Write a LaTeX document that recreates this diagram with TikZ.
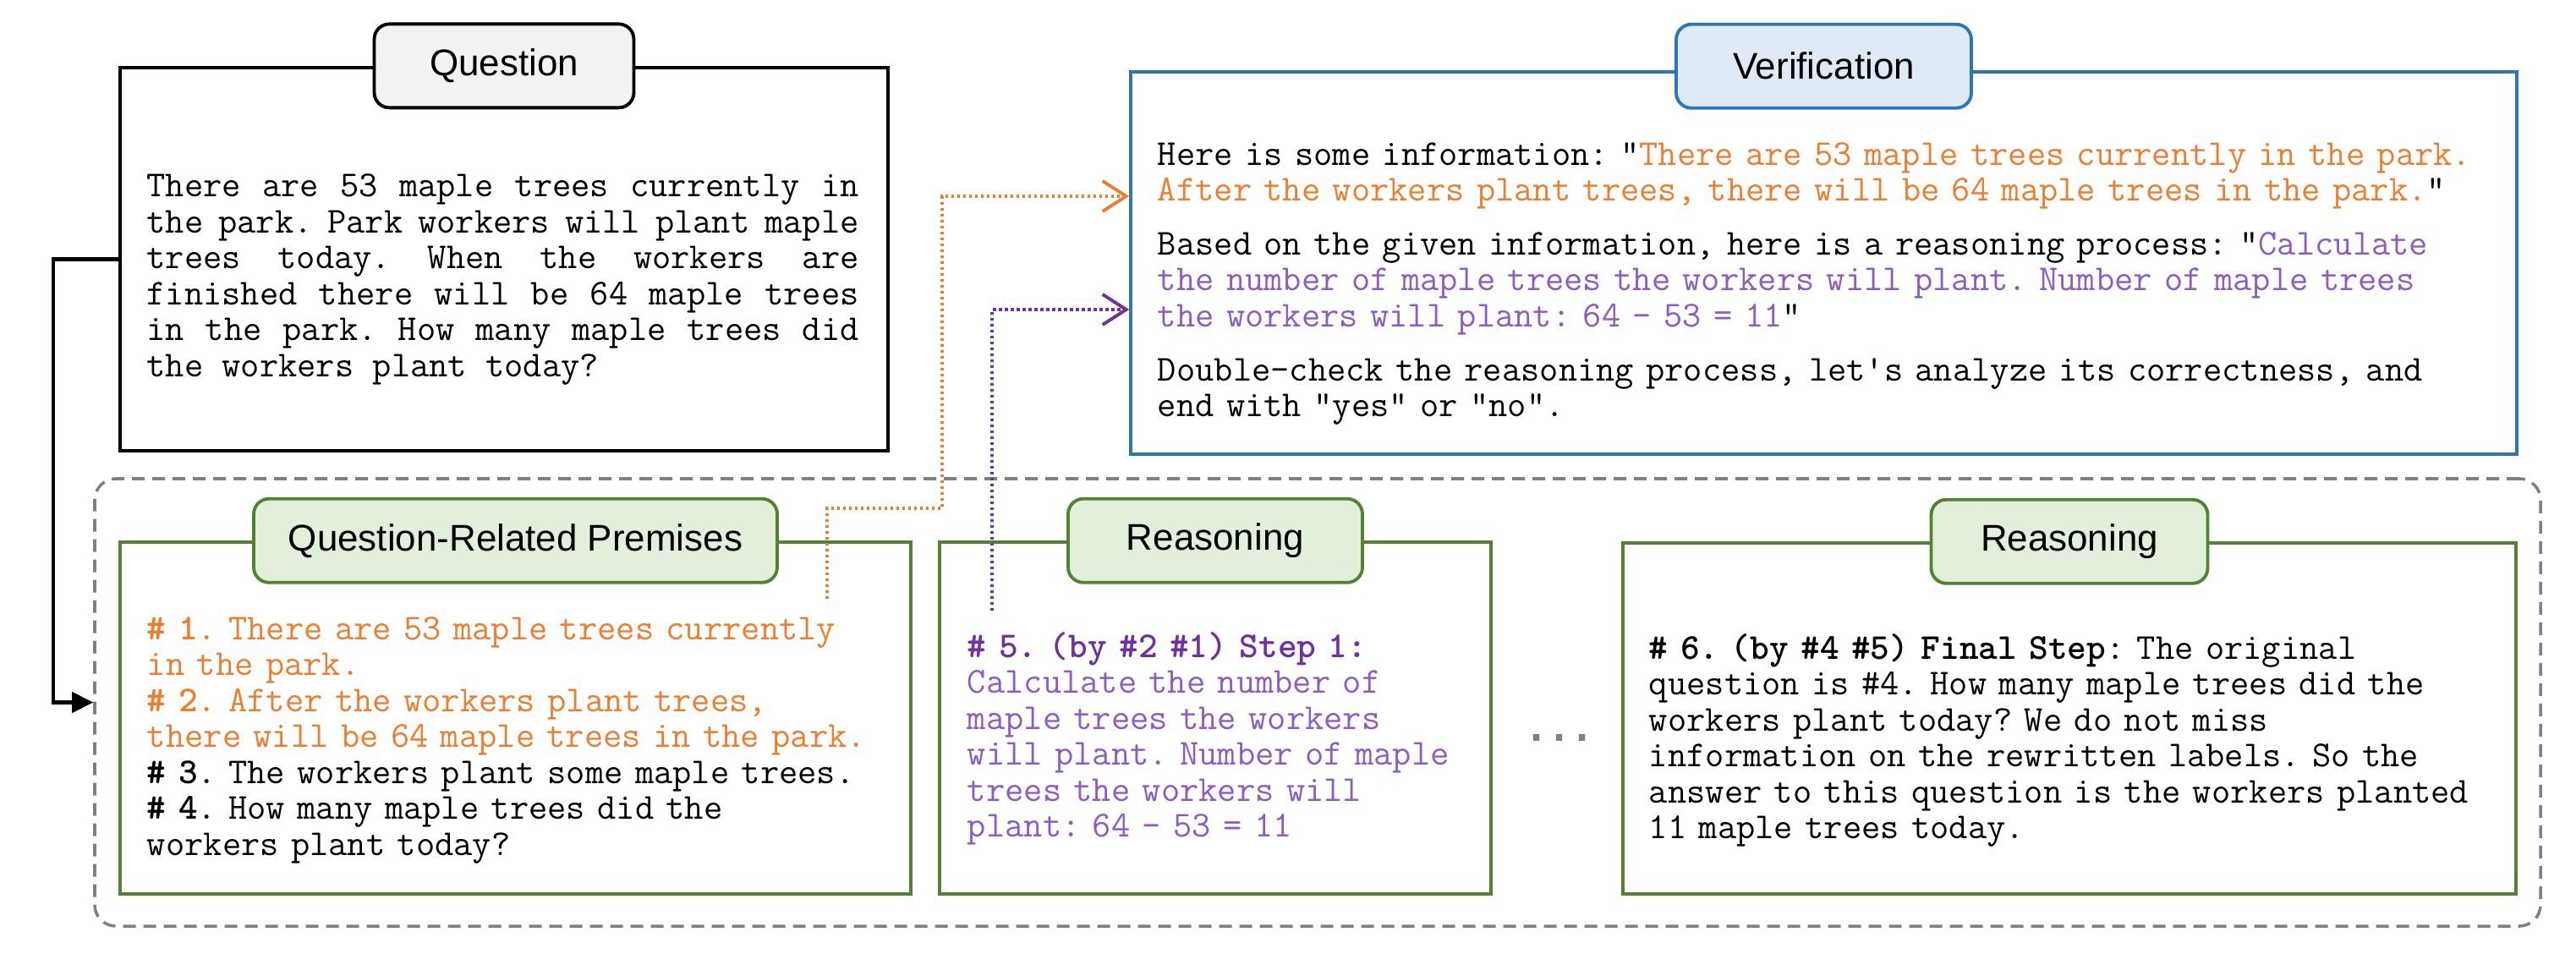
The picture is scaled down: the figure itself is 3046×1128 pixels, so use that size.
\documentclass[tikz,border=0pt]{standalone}
\usepackage{fontspec}
\setmainfont{Liberation Sans}
\newfontfamily\dotfont{DejaVu Sans Mono}
\usepackage{tikz}
\usetikzlibrary{arrows.meta}
\usetikzlibrary{fit,calc,positioning}
\usepackage{xcolor}
\definecolor{premorange}{HTML}{ED7D31}
\definecolor{steppurple}{HTML}{7030A0}
\definecolor{steplilac}{HTML}{8E5CC0}
\definecolor{boxgreen}{HTML}{548235}
\definecolor{tabgreen}{HTML}{E2EFDA}
\definecolor{boxblue}{HTML}{2E75B6}
\definecolor{tabblue}{HTML}{DEEBF7}
\definecolor{tabgray}{HTML}{F2F2F2}
\definecolor{framegray}{HTML}{808080}
\newcommand{\boxtext}{\ttfamily\fontsize{12.3pt}{12.1pt}\selectfont\frenchspacing}
\newcommand{\tabtext}{\fontsize{12.5pt}{14pt}\selectfont}
\newcommand{\fullline}[1]{\makebox[\linewidth][s]{#1}}
\tikzstyle{plainbox}=[draw=black, line width=1.2pt, inner sep=0pt]
\tikzstyle{bluebox}=[draw=boxblue, line width=1pt, inner sep=0pt]
\tikzstyle{greenbox}=[draw=boxgreen, line width=1pt, inner sep=0pt]
\tikzstyle{framebox}=[draw=framegray, line width=1pt, dash pattern=on 1.5mm off 0.9mm, rounded corners=2.5mm, inner sep=0pt]
\tikzstyle{tab}=[rounded corners=1.8mm, line width=1.1pt, minimum height=9.9mm, inner sep=0pt, font=\tabtext]
\tikzstyle{greentab}=[tab, draw=boxgreen, fill=tabgreen]
\tikzstyle{body}=[anchor=base west, inner sep=0pt, align=left, font=\boxtext]
\tikzstyle{qarrow}=[draw=black, line width=1.2pt, -{Triangle[length=2.5mm,width=2.4mm]}]
\tikzstyle{premlink}=[draw=premorange, line width=1.1pt, dash pattern=on 0.35mm off 0.35mm, -{Straight Barb[length=2.8mm,width=3.6mm]}]
\tikzstyle{steplink}=[premlink, draw=steppurple]

\begin{document}
\begin{tikzpicture}[x=0.1mm,y=-0.1mm]
\useasboundingbox (0,0) rectangle (3046,1128);

% boxes
\node[plainbox, fit={(142,80) (1050,533)}] (question) {};
\node[bluebox, fit={(1337,85) (2976,537)}] (verification) {};
\node[framebox, fit={(112,566) (3004,1095)}] (frame) {};
\node[greenbox, fit={(142,641) (1077,1057)}] (premises) {};
\node[greenbox, fit={(1111,641) (1763,1057)}] (step1) {};
\node[greenbox, fit={(1919,642) (2975,1057)}] (step2) {};

% titles
\node[tab, draw=black, fill=tabgray, minimum width=30.7mm] (qtitle) at (question.north) {Question};
\node[tab, draw=boxblue, fill=tabblue, minimum width=34.9mm] (vtitle) at ($(verification.north)+(0,-5)$) {Verification};
\node[greentab, minimum width=61.9mm] (ptitle) at (premises.north) {Question-Related Premises};
\node[greentab, minimum width=34.8mm] (s1title) at (step1.north) {Reasoning};
\node[greentab, minimum width=32.7mm] (s2title) at (step2.north) {Reasoning};

% texts
\node[body, text width=84.2mm] (qtext) at ($(question.north west)+(33,155)$) {%
\spaceskip=\fontdimen2\font plus 1em minus 0.3em\relax
\fullline{There are 53 maple trees currently in}\\
\fullline{the park. Park workers will plant maple}\\
\fullline{trees today. When the workers are}\\
\fullline{finished there will be 64 maple trees}\\
\fullline{in the park. How many maple trees did}\\
the workers plant today?};

\node[body, text width=165mm] (vtext) at ($(verification.north west)+(33,112)$) {%
Here is some information: "\textcolor{premorange}{There are 53 maple trees currently in the park.}\\
\textcolor{premorange}{After the workers plant trees, there will be 64 maple trees in the park.}"\\[6pt]
Based on the given information, here is a reasoning process: "\textcolor{steplilac}{Calculate}\\
\textcolor{steplilac}{the number of maple trees the workers will plant. Number of maple trees}\\
\textcolor{steplilac}{the workers will plant: 64 - 53 = 11}"\\[6pt]
Double-check the reasoning process, let's analyze its correctness, and\\
end with "yes" or "no".};

\node[body, text width=92mm] (ptext) at ($(premises.north west)+(33,117)$) {%
\textcolor{premorange}{\textbf{\# 1}. There are 53 maple trees currently}\\
\textcolor{premorange}{in the park.}\\
\textcolor{premorange}{\textbf{\# 2}. After the workers plant trees,}\\
\textcolor{premorange}{there will be 64 maple trees in the park.}\\
\textbf{\# 3}. The workers plant some maple trees.\\
\textbf{\# 4}. How many maple trees did the\\
workers plant today?};

\node[body, text width=62mm] (s1text) at ($(step1.north west)+(34,138)$) {%
\textcolor{steppurple}{\textbf{\# 5. (by \#2 \#1) Step 1:}}\\
\textcolor{steplilac}{Calculate the number of}\\
\textcolor{steplilac}{maple trees the workers}\\
\textcolor{steplilac}{will plant. Number of maple}\\
\textcolor{steplilac}{trees the workers will}\\
\textcolor{steplilac}{plant: 64 - 53 = 11}};

\node[body, text width=102mm] (s2text) at ($(step2.north west)+(32,139)$) {%
\textbf{\# 6. (by \#4 \#5) Final Step}: The original\\
question is \#4. How many maple trees did the\\
workers plant today? We do not miss\\
information on the rewritten labels. So the\\
answer to this question is the workers planted\\
11 maple trees today.};

\node[font=\dotfont\bfseries\fontsize{12.8pt}{14pt}\selectfont, text=framegray, inner sep=0pt] (dots) at ($(step1.east)!0.5!(step2.west)+(3,23)$) {...};

% connectors
\draw[qarrow] (question.west) -- ++(-77,0) |- (frame.west);
\coordinate (pfrom) at ($(premises.north east)+(-101,69)$);
\draw[premlink] (pfrom) |- ($(premises.north east)+(35,-38)$) |- ($(verification.west)+(0,-79)$);
\coordinate (sfrom) at ($(step1.north west)+(64,83)$);
\draw[steplink] (sfrom) |- ($(verification.west)+(0,55)$);
\end{tikzpicture}
\end{document}
